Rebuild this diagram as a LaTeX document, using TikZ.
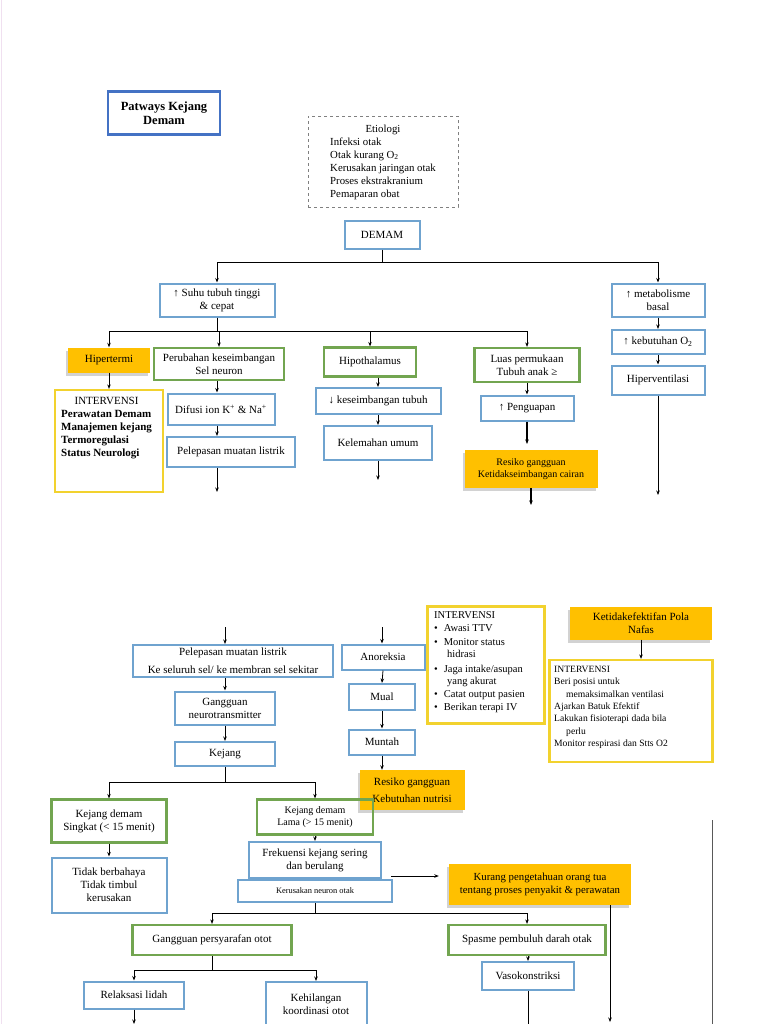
\documentclass[tikz,border=0pt]{standalone}
\usepackage{fontspec}
\setmainfont{Liberation Serif}
\usetikzlibrary{arrows.meta,shadows}
\definecolor{bbl}{HTML}{6FA3CF}
\definecolor{tbl}{HTML}{4472C4}
\definecolor{grn}{HTML}{72A550}
\definecolor{org}{HTML}{FFC000}
\definecolor{ylw}{HTML}{F2D22E}
\newcommand{\bx}[7]{\node[#6, minimum width=#4pt, minimum height=#5pt] (#1) at (#2,#3) {#7};}
\begin{document}
\begin{tikzpicture}[x=1pt,y=-1pt,
  base/.style={align=center,inner sep=1pt,font=\fontsize{11}{13}\selectfont},
  bb/.style={base,draw=bbl,line width=2pt},
  gb/.style={base,draw=grn,line width=2.2pt},
  ob/.style={base,fill=org,drop shadow={fill=gray!35,shadow xshift=-2pt,shadow yshift=-3pt,opacity=1}},
  yb/.style={base,draw=ylw,line width=2.2pt},
  arr/.style={-{Stealth[length=4.5pt,width=3.5pt]},line width=0.8pt},
  ln/.style={line width=0.8pt}]
\useasboundingbox (0,0) rectangle (768,1024);
\clip (0,0) rectangle (768,1024);
\fill[white] (0,0) rectangle (768,1024);
\draw[violet!12,line width=1pt] (1.5,0) -- (1.5,1024);
% ---------- top half
\bx{title}{164}{113}{112}{43}{base,draw=tbl,line width=2.8pt,font=\bfseries\fontsize{12.5}{14.5}\selectfont}{Patways Kejang\\Demam}
\bx{etio}{383}{162}{150}{91}{base,draw=gray,dashed,line width=0.8pt,font=\fontsize{10.8}{13}\selectfont}{\begin{tabular}{@{}l@{}}\multicolumn{1}{c}{Etiologi}\\Infeksi otak\\Otak kurang O\textsubscript{2}\\Kerusakan jaringan otak\\Proses ekstrakranium\\Pemaparan obat\end{tabular}}
\bx{demam}{382}{235}{75}{27}{bb}{DEMAM}
\bx{suhu}{217}{300}{115}{33}{bb}{↑ Suhu tubuh tinggi\\\& cepat}
\bx{meta}{658}{300}{93}{33}{bb}{↑ metabolisme\\basal}
\bx{hiper}{109}{360}{82}{25}{ob}{Hipertermi}
\bx{perub}{219}{364}{130}{32}{gb}{Perubahan keseimbangan\\Sel neuron}
\bx{hipoth}{370}{362}{92}{29}{gb}{Hipothalamus}
\bx{luas}{527}{365}{105}{34}{gb}{Luas permukaan\\Tubuh anak ≥}
\bx{intv1}{109}{441}{108}{102}{yb}{}
\node[base,anchor=north west,align=left] (intv1t) at (60,394) {\begin{tabular}{@{}l@{}}\multicolumn{1}{c}{INTERVENSI}\\\textbf{Perawatan Demam}\\\textbf{Manajemen kejang}\\\textbf{Termoregulasi}\\\textbf{Status Neurologi}\end{tabular}};
\bx{difusi}{221}{409}{107}{31}{bb}{Difusi ion K\textsuperscript{+} \& Na\textsuperscript{+}}
\bx{pelep1}{231}{452}{128}{30}{bb}{Pelepasan muatan listrik}
\bx{kes}{378}{401}{125}{26}{bb}{↓ keseimbangan tubuh}
\bx{kelem}{378}{443}{108}{34}{bb}{Kelemahan umum}
\bx{peng}{527}{408}{93}{25}{bb}{↑ Penguapan}
\bx{resC}{531}{469}{133}{38}{ob,font=\fontsize{10}{12}\selectfont}{Resiko gangguan\\Ketidakseimbangan cairan}
\bx{kebO}{658}{342}{93}{24}{bb}{↑ kebutuhan O\textsubscript{2}}
\bx{hipV}{658}{380}{93}{29}{bb}{Hiperventilasi}
\coordinate (j1) at (382,262);
\draw[ln] (demam.south) -- (j1);
\draw[ln] (217,262) -- (658,262);
\draw[arr] (suhu.north |- j1) -- (suhu.north);
\draw[arr] (meta.north |- j1) -- (meta.north);
\coordinate (j2) at (217,331);
\draw[ln] (suhu.south) -- (j2);
\draw[ln] (hiper.north |- j2) -- (luas.north |- j2);
\foreach \n in {hiper,perub,hipoth,luas} \draw[arr] (\n.north |- j2) -- (\n.north);
\draw[arr] (hiper.south) -- (intv1.north);
\draw[arr] (perub.south -| 217,0) -- (difusi.north -| 217,0);
\draw[arr] (difusi.south -| 217,0) -- (pelep1.north -| 217,0);
\coordinate (e1) at (217,492);
\draw[arr] (pelep1.south -| e1) -- (e1);
\draw[arr] (hipoth.south -| kes.north) -- (kes.north);
\draw[arr] (kes.south) -- (kelem.north);
\coordinate (e2) at (378,480);
\draw[arr] (kelem.south) -- (e2);
\draw[arr] (luas.south) -- (peng.north);
\coordinate (e3) at (527,444);
\draw[arr,line width=1.3pt] (peng.south) -- (e3);
\coordinate (e4) at (531,505);
\draw[arr,line width=1.3pt] (resC.south) -- (e4);
\draw[arr] (meta.south) -- (kebO.north);
\draw[arr] (kebO.south) -- (hipV.north);
\coordinate (e5) at (658,495);
\draw[arr] (hipV.south) -- (e5);
% ---------- bottom half
\coordinate (s1) at (225,627);
\coordinate (s2) at (382,627);
\bx{pel2}{233}{661}{200}{32}{bb}{Pelepasan muatan listrik\\[5pt]Ke seluruh sel/ ke membran sel sekitar}
\bx{anor}{383}{657}{83}{25}{bb}{Anoreksia}
\bx{gang}{225}{708}{100}{33}{bb}{Gangguan\\neurotransmitter}
\bx{kej}{225}{754}{100}{24}{bb}{Kejang}
\bx{mual}{382}{697}{66}{26}{bb}{Mual}
\bx{munt}{382}{742}{66}{25}{bb}{Muntah}
\bx{resN}{412}{790}{105}{40}{ob}{Resiko gangguan\\[4pt]Kebutuhan nutrisi}
\bx{intv2}{486}{665}{117}{117}{yb}{}
\node[base,anchor=north west,align=left,font=\fontsize{10.5}{12}\selectfont] (intv2t) at (433,610) {INTERVENSI\\[1pt]
\textbullet\hspace{6pt}Awasi TTV\\[2pt]
\textbullet\hspace{6pt}Monitor status\\
\hspace{13pt}hidrasi\\[3pt]
\textbullet\hspace{6pt}Jaga intake/asupan\\
\hspace{13pt}yang akurat\\[1pt]
\textbullet\hspace{6pt}Catat output pasien\\[1pt]
\textbullet\hspace{6pt}Berikan terapi IV};
\bx{keti}{641}{623}{142}{33}{ob}{Ketidakefektifan Pola\\Nafas}
\bx{intv3}{631}{711}{163}{102}{yb}{}
\node[base,anchor=north west,align=left,font=\fontsize{9.6}{12.3}\selectfont] (intv3t) at (553,665) {INTERVENSI\\
Beri posisi untuk\\
\hspace{12pt}memaksimalkan ventilasi\\
Ajarkan Batuk Efektif\\
Lakukan fisioterapi dada bila\\
\hspace{12pt}perlu\\
Monitor respirasi dan Stts O2};
\bx{kds}{109}{821}{115}{43}{gb}{Kejang demam\\Singkat (< 15 menit)}
\bx{kdl}{315}{817}{116}{35}{gb,font=\fontsize{10}{12}\selectfont}{Kejang demam\\Lama (> 15 menit)}
\bx{tidak}{109}{885}{115}{55}{bb}{Tidak berbahaya\\Tidak timbul\\kerusakan}
\bx{frek}{315}{860}{132}{36}{bb}{Frekuensi kejang sering\\dan berulang}
\bx{kerus}{315}{891}{154}{22}{bb,font=\fontsize{8.4}{9}\selectfont}{Kerusakan neuron otak}
\bx{kurang}{540}{884}{182}{41}{ob,font=\fontsize{10.8}{13}\selectfont}{Kurang pengetahuan orang tua\\tentang proses penyakit \& perawatan}
\bx{gp}{212}{940}{159}{30}{gb}{Gangguan persyarafan otot}
\bx{spas}{527}{940}{157}{30}{gb}{Spasme pembuluh darah otak}
\bx{rel}{134}{995}{100}{27}{bb}{Relaksasi lidah}
\bx{keh}{316}{1004}{101}{44}{bb}{Kehilangan\\koordinasi otot}
\bx{vaso}{528}{976}{92}{28}{bb}{Vasokonstriksi}
\draw[arr] (s1) -- (pel2.north -| s1);
\draw[arr] (s2) -- (anor.north -| s2);
\draw[arr] (pel2.south -| gang.north) -- (gang.north);
\draw[arr] (gang.south) -- (kej.north);
\coordinate (j3) at (225,782);
\draw[ln] (kej.south) -- (j3);
\draw[ln] (kds.north |- j3) -- (kdl.north |- j3);
\draw[arr] (kds.north |- j3) -- (kds.north);
\draw[arr] (kdl.north |- j3) -- (kdl.north);
\draw[arr] (kds.south) -- (tidak.north);
\draw[arr] (kdl.south) -- (frek.north);
\draw[ln] (frek.south) -- (kerus.north);
\coordinate (a1) at (391,876);
\draw[arr] (a1) -- (a1 -| kurang.west) [shorten >=10pt];
\coordinate (j4) at (315,913);
\draw[ln] (kerus.south) -- (j4);
\draw[ln] (gp.north |- j4) -- (spas.north |- j4);
\draw[arr] (gp.north |- j4) -- (gp.north);
\draw[arr] (spas.north |- j4) -- (spas.north);
\coordinate (j5) at (212,970);
\draw[ln] (gp.south) -- (j5);
\draw[ln] (rel.north |- j5) -- (keh.north |- j5);
\draw[arr] (rel.north |- j5) -- (rel.north);
\draw[arr] (keh.north |- j5) -- (keh.north);
\coordinate (e6) at (134,1024);
\draw[arr] (rel.south) -- (e6);
\draw[arr] (spas.south -| vaso.north) -- (vaso.north);
\coordinate (e7) at (528,1026);
\draw[ln] (vaso.south) -- (e7);
\coordinate (k1) at (610,905);
\coordinate (e8) at (610,1022);
\draw[arr] (k1) -- (e8);
\coordinate (v1) at (712,820);
\coordinate (v2) at (712,1024);
\draw[ln,gray!70!black] (v1) -- (v2);
\draw[arr] (anor.south) -- (mual.north);
\draw[arr] (mual.south) -- (munt.north);
\draw[arr] (munt.south) -- (resN.north -| munt.south);
\draw[arr] (keti.south) -- (intv3.north -| keti.south);
\end{tikzpicture}
\end{document}
